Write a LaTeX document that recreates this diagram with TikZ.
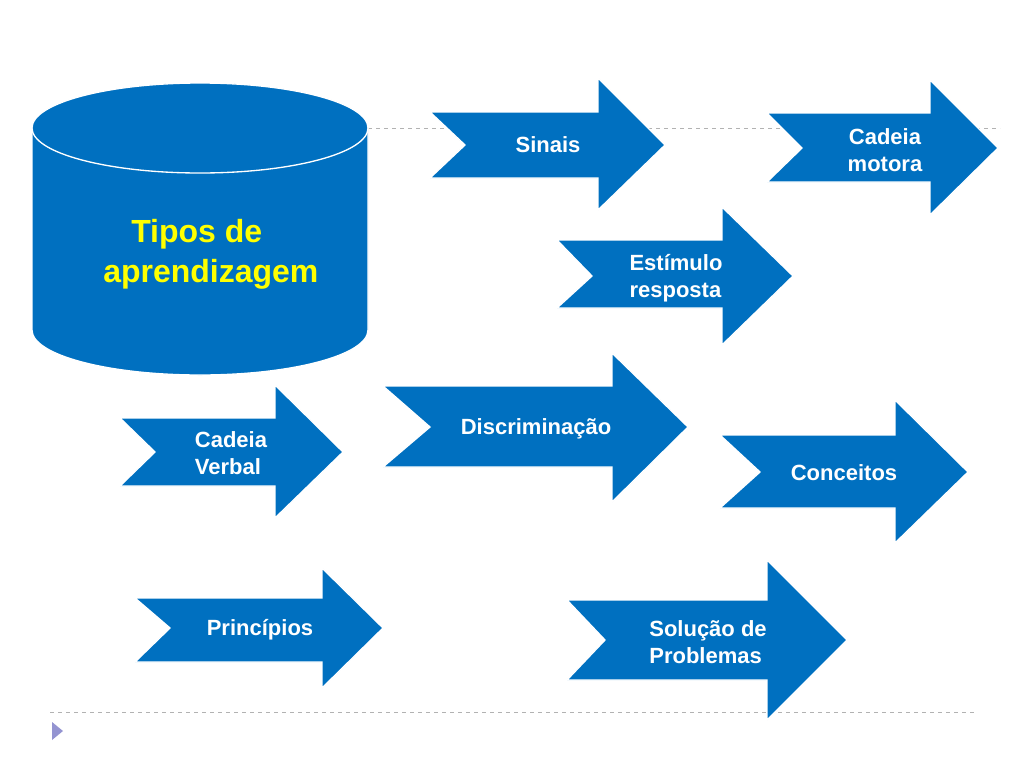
\documentclass[tikz,border=0pt]{standalone}
\usepackage{fontspec}
\setmainfont{Liberation Sans}
\begin{document}
\begin{tikzpicture}[x=0.75pt,y=-0.75pt,
  shp/.style={fill=blu,draw=white,line width=1pt},
  lbl/.style={text=white,font=\bfseries\fontsize{16.5}{20}\selectfont,align=left}]
\definecolor{blu}{HTML}{0070C0}
\useasboundingbox (0,0) rectangle (1024,768);
\newcommand\chev[9]{\path[shp] (#1,#3)--(#5,#3)--(#5,#6)--(#8,#9)--(#5,#7)--(#5,#4)--(#1,#4)--(#2,#9)--cycle;}
% dashed lines
\draw[gray!60,dashed] (368,128)--(1000,128);
\draw[gray!60,dashed] (50,712)--(975,712);
\fill[gray!60!blue!60] (52,722)--(63,731)--(52,740)--cycle;
% cylinder
\path[shp] (32,128)--(32,330) arc[start angle=180,end angle=0,x radius=168,y radius=45]--(368,128) arc[start angle=0,end angle=-180,x radius=168,y radius=45];
\path[shp] (200,128) ellipse[x radius=168,y radius=45];
\node[text={rgb,255:red,255;green,255;blue,0},font=\bfseries\fontsize{24}{30}\selectfont,align=left,anchor=west,inner sep=0pt] (tipos) at (103,254) {\hspace*{21pt}Tipos de\\aprendizagem};
% arrows
\chev{430}{465}{112}{178}{598}{78}{210}{665}{145}
\node[lbl] (sinais) at (548,145) {Sinais};
\chev{767}{802}{113}{182}{930}{80}{215}{998}{148}
\node[lbl,align=center] (motora) at (885,150) {Cadeia\\motora};
\chev{557}{592}{240}{308}{722}{207}{345}{793}{276}
\node[lbl] (estimulo) at (676,278) {Estímulo\\resposta};
\chev{120}{155}{418}{486}{275}{385}{518}{343}{452}
\node[lbl] (verbal) at (231,453) {Cadeia\\Verbal};
\chev{383}{430}{386}{467}{612}{353}{502}{688}{427}
\node[lbl] (discr) at (536,429) {Discriminação};
\chev{720}{760}{435}{508}{895}{400}{543}{968}{472}
\node[lbl] (conc) at (844,473) {Conceitos};
\chev{135}{170}{598}{662}{322}{568}{688}{383}{628}
\node[lbl] (princ) at (260,630) {Princípios};
\chev{567}{605}{600}{680}{767}{560}{720}{847}{640}
\node[lbl] (sol) at (708,642) {Solução de\\Problemas};
\end{tikzpicture}
\end{document}
